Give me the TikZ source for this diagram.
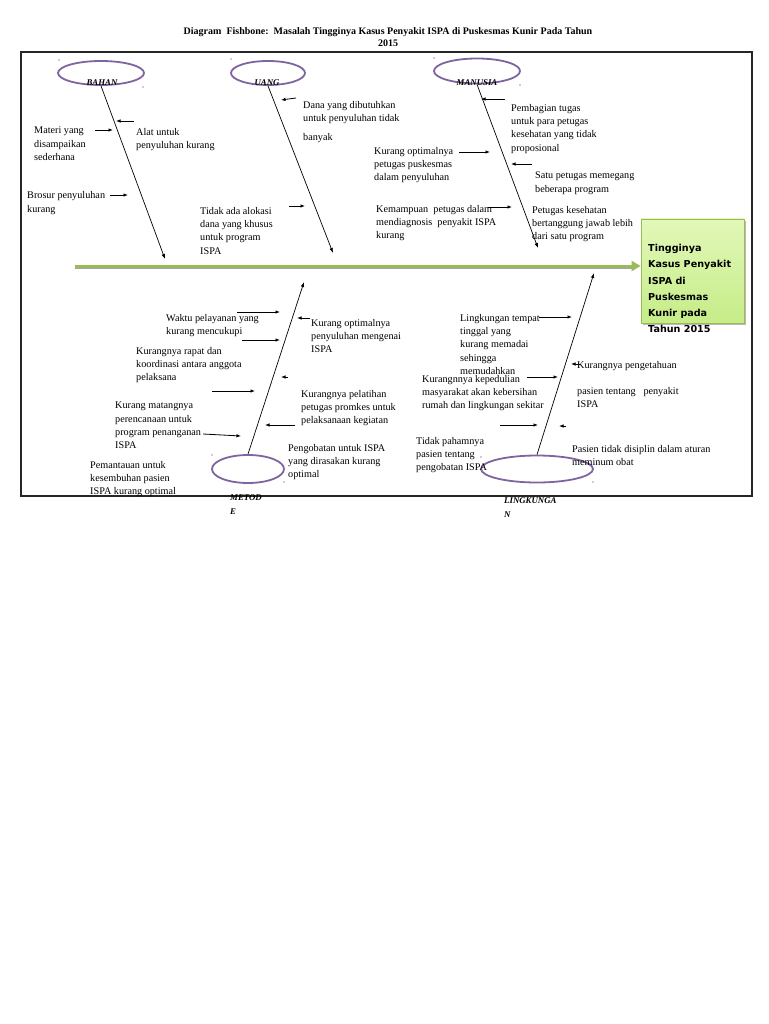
\documentclass[tikz,border=0pt]{standalone}
\usepackage{fontspec}
\setmainfont{Liberation Serif}
\newfontfamily\boxfont{DejaVu Sans}
\usetikzlibrary{arrows.meta,shapes.geometric,shadows,calc}
\definecolor{fishpurple}{HTML}{8064A2}
\definecolor{spinegreen}{HTML}{9BBB59}
\definecolor{boxtop}{HTML}{E2F8B8}
\definecolor{boxbot}{HTML}{C6EC88}
\tikzset{
  lbl/.style={anchor=north west, inner sep=0pt, yshift=-2pt, align=left, font=\fontsize{10.2}{13.3}\selectfont},
  arr/.style={-{Latex[length=4.5pt,width=3.5pt]}, line width=0.8pt},
  bone/.style={-{Latex[length=5pt,width=3.5pt]}, line width=0.7pt},
  cause/.style={ellipse, draw=fishpurple, line width=1.8pt, inner sep=0pt},
  catlbl/.style={inner sep=0pt, align=left, font=\fontsize{8.8}{14}\selectfont\bfseries\itshape},
  handle/.style={circle, fill=fishpurple!70, inner sep=0pt, minimum size=1.6pt},
}
\newcommand{\shortarrow}[3]{\coordinate (#1s) at (#2); \coordinate (#1e) at (#3); \draw[arr] (#1s) -- (#1e);}
\begin{document}
\begin{tikzpicture}[x=1pt,y=-1pt]
\useasboundingbox (0,0) rectangle (768,1024);
\fill[white] (0,0) rectangle (768,1024);

% title
\node[font=\fontsize{10}{12}\selectfont\bfseries, align=center, inner sep=0pt] (title) at (388,37)
  {Diagram\ \ Fishbone:\ \ Masalah Tingginya Kasus Penyakit ISPA di Puskesmas Kunir Pada Tahun\\2015};

% frame
\draw[line width=2.2pt, black!85] (21,52) rectangle (752,496);

% cause ellipses
\node[cause, minimum width=86, minimum height=24] (bahan) at (101,73) {};
\node[cause, minimum width=74, minimum height=24] (uang) at (268,73) {};
\node[cause, minimum width=86, minimum height=25] (manusia) at (477,71) {};
\node[cause, minimum width=72, minimum height=28] (metode) at (248,469) {};
\node[cause, minimum width=112, minimum height=27] (lingk) at (537,469) {};

\node[handle] (h1) at (59,60) {};
\node[handle] (h2) at (143,87) {};
\node[handle] (h3) at (231,59) {};
\node[handle] (h4) at (434,58) {};
\node[handle] (h5) at (520,85) {};
\node[handle] (h6) at (212,455) {};
\node[handle] (h7) at (284,482) {};
\node[handle] (h8) at (481,457) {};
\node[handle] (h9) at (593,482) {};

\node[catlbl] (bahanL) at (102,83) {BAHAN};
\node[catlbl] (uangL) at (267,83) {UANG};
\node[catlbl] (manusiaL) at (477,83) {MANUSIA};
\node[catlbl, anchor=north west] (metodeL) at (230,494) {METOD\\E};
\node[catlbl, anchor=north west] (lingkL) at (504,497) {LINGKUNGA\\N};

% effect box
\node[draw=spinegreen, line width=0.8pt, top color=boxtop, bottom color=boxbot,
      minimum width=103, minimum height=104, inner sep=0pt,
      drop shadow={shadow xshift=2pt, shadow yshift=-2pt, fill=black!45, opacity=0.6}] (effect) at (692.5,271) {};
\node[anchor=north west, inner sep=0pt, align=left, font=\boxfont\bfseries\fontsize{9.6}{16.3}\selectfont] (effectTxt) at (648,244)
  {Tingginya\\Kasus Penyakit\\ISPA di\\Puskesmas\\Kunir pada\\Tahun 2015};

% spine
\coordinate (spineStart) at (75,266);
\draw[line width=4pt, black!35] ($(spineStart)+(0,1.2)$) -- ($(spineStart -| effect.west)+(-8,1.2)$);
\draw[line width=3pt, spinegreen, -{Triangle[length=9pt,width=10pt]}] (spineStart) -- (spineStart -| effect.west);

% bones
\coordinate (bahanEnd) at (165,259);
\coordinate (uangEnd) at (333,253);
\coordinate (manusiaEnd) at (538,248);
\coordinate (metodeEnd) at (304,282);
\coordinate (lingkEnd) at (594,273);
\draw[bone] (bahan.south) -- (bahanEnd);
\draw[bone] (uang.south) -- (uangEnd);
\draw[bone] (manusia.south) -- (manusiaEnd);
\draw[bone] (metode.north) -- (metodeEnd);
\draw[bone] (lingk.north) -- (lingkEnd);

% BAHAN
\shortarrow{a1}{95,130}{113,130}
\shortarrow{a2}{134,121}{116,121}
\shortarrow{a3}{110,195}{128,195}
\node[lbl] (t1) at (34,125) {Materi yang\\disampaikan\\sederhana};
\node[lbl] (t2) at (136,126) {Alat untuk\\penyuluhan kurang};
\node[lbl] (t3) at (27,189) {Brosur penyuluhan\\[0.7pt]kurang};

% UANG
\shortarrow{a4}{296,98}{281,100}
\shortarrow{a5}{289,206}{305,206}
\node[lbl] (t4) at (303,99) {Dana yang dibutuhkan\\untuk penyuluhan tidak\\[5.7pt]banyak};
\node[lbl] (t5) at (200,205) {Tidak ada alokasi\\dana yang khusus\\untuk program\\ISPA};

% MANUSIA
\shortarrow{a6}{459,152}{490,152}
\shortarrow{a7}{488,207}{512,207}
\shortarrow{a8}{505,99}{481,99}
\shortarrow{a9}{532,164}{511,164}
\node[lbl] (t6) at (374,145) {Kurang optimalnya\\petugas puskesmas\\dalam penyuluhan};
\node[lbl] (t7) at (376,203) {Kemampuan\ \ petugas dalam\\mendiagnosis\ \ penyakit ISPA\\kurang};
\node[lbl] (t8) at (511,102) {Pembagian tugas\\untuk para petugas\\kesehatan yang tidak\\proposional};
\node[lbl] (t9) at (535,170) {Satu petugas memegang\\beberapa program};
\node[lbl] (t10) at (532,204) {Petugas kesehatan\\bertanggung jawab lebih\\dari satu program};

% METODE
\shortarrow{a10}{237,312}{280,312}
\shortarrow{a11}{242,340}{280,340}
\shortarrow{a12}{212,391}{255,391}
\shortarrow{a13}{203,434}{241,436}
\shortarrow{a14}{310,318}{297,318}
\shortarrow{a15}{288,377}{281,377}
\shortarrow{a16}{295,425}{265,425}
\node[lbl] (t11) at (166,312) {Waktu pelayanan yang\\kurang mencukupi};
\node[lbl] (t12) at (136,345) {Kurangnya rapat dan\\koordinasi antara anggota\\pelaksana};
\node[lbl] (t13) at (115,400) {Kurang matangnya\\perencanaan untuk\\program penanganan\\ISPA};
\node[lbl] (t14) at (90,459) {Pemantauan untuk\\kesembuhan pasien\\ISPA kurang optimal};
\node[lbl] (t15) at (311,317) {Kurang optimalnya\\penyuluhan mengenai\\ISPA};
\node[lbl] (t16) at (301,388) {Kurangnya pelatihan\\petugas promkes untuk\\pelaksanaan kegiatan};
\node[lbl] (t17) at (288,442) {Pengobatan untuk ISPA\\yang dirasakan kurang\\optimal};

% LINGKUNGAN
\shortarrow{a17}{539,317}{572,317}
\shortarrow{a18}{527,377}{558,377}
\shortarrow{a19}{500,425}{538,425}
\shortarrow{a20}{580,364}{571,364}
\shortarrow{a21}{566,426}{559,426}
\node[lbl] (t18) at (460,312) {Lingkungan tempat\\tinggal yang\\kurang memadai\\sehingga\\memudahkan};
\node[lbl] (t19) at (422,373) {Kurangnnya kepedulian\\masyarakat akan kebersihan\\rumah dan lingkungan sekitar};
\node[lbl] (t20) at (416,435) {Tidak pahamnya\\pasien tentang\\pengobatan ISPA};
\node[lbl] (t21) at (577,359) {Kurangnya pengetahuan\\[12.7pt]pasien tentang\ \ \ penyakit\\ISPA};
\node[lbl] (t22) at (572,443) {Pasien tidak disiplin dalam aturan\\meminum obat};
\end{tikzpicture}
\end{document}
